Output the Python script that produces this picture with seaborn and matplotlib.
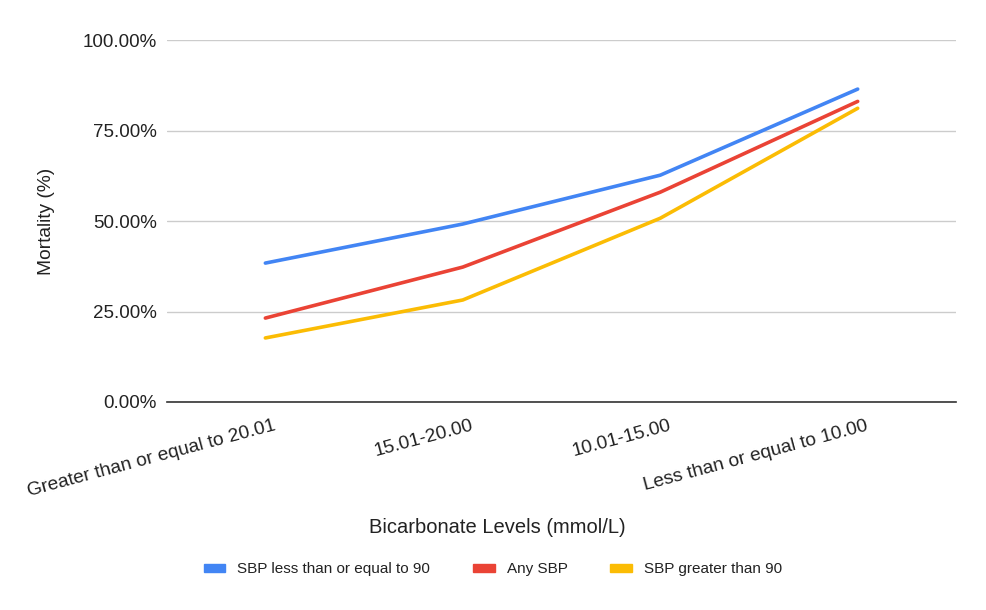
import numpy as np
import pandas as pd
import matplotlib.pyplot as plt
import matplotlib.transforms as mtransforms
import seaborn as sns
from matplotlib.ticker import FuncFormatter
from matplotlib.patches import Patch

categories = ['Greater than or equal to 20.01', '15.01-20.00', '10.01-15.00', 'Less than or equal to 10.00']
sbp_low = [38.4, 49.2, 62.7, 86.5]
any_sbp = [23.2, 37.3, 58.0, 83.1]
sbp_high = [17.7, 28.2, 50.8, 81.2]
series_names = ['SBP less than or equal to 90', 'Any SBP', 'SBP greater than 90']
colors = ['#4285f4', '#ea4335', '#fbbc04']
yticks = [0, 25, 50, 75, 100]

rows = []
for name, vals in zip(series_names, [sbp_low, any_sbp, sbp_high]):
    for i, v in enumerate(vals):
        rows.append({'pos': i, 'series': name, 'value': v})
df = pd.DataFrame(rows)

sns.set_style('white')
plt.rcParams['font.family'] = ['Liberation Sans', 'DejaVu Sans']

fig = plt.figure(figsize=(9.86, 6.1), dpi=100)
ax = fig.add_axes([0.169, 0.341, 0.801, 0.593])

sns.lineplot(data=df, x='pos', y='value', hue='series', hue_order=series_names,
             palette=colors, linewidth=2.6, ax=ax, legend=False)

ax.set_xlim(-0.5, 3.5)
ax.set_ylim(0, 100)
ax.set_yticks(yticks)
ax.yaxis.set_major_formatter(FuncFormatter(lambda v, p: f'{v:.2f}%'))
ax.grid(axis='y', color='#cccccc', linewidth=1)
ax.set_axisbelow(True)
for s in ['top', 'right', 'left']:
    ax.spines[s].set_visible(False)
ax.spines['bottom'].set_color('#333333')
ax.spines['bottom'].set_linewidth(1.2)
ax.tick_params(axis='y', length=0, labelsize=13.5, colors='#222222', pad=7)
ax.tick_params(axis='x', length=0, labelsize=13.8, colors='#222222', pad=11)

ax.set_xticks(range(len(categories)))
ax.set_xticklabels(categories, rotation=15, ha='right', rotation_mode='anchor')
shift = mtransforms.ScaledTranslation(8 / 100, 0, fig.dpi_scale_trans)
for lbl in ax.get_xticklabels():
    lbl.set_transform(lbl.get_transform() + shift)
ax.set_xlabel('')
ax.set_ylabel('Mortality (%)', fontsize=13.8, color='#222222', labelpad=20)
fig.text(0.504, 0.136, 'Bicarbonate Levels (mmol/L)', ha='center', va='center',
         fontsize=14.5, color='#222222')

handles = [Patch(color=c, label=n) for c, n in zip(colors, series_names)]
fig.legend(handles=handles, loc='center', bbox_to_anchor=(0.5, 0.067), ncol=3,
           frameon=False, fontsize=11, handlelength=1.4, handleheight=0.4,
           columnspacing=2.8, labelcolor='#222222')

fig.savefig('out.png', dpi=100)
